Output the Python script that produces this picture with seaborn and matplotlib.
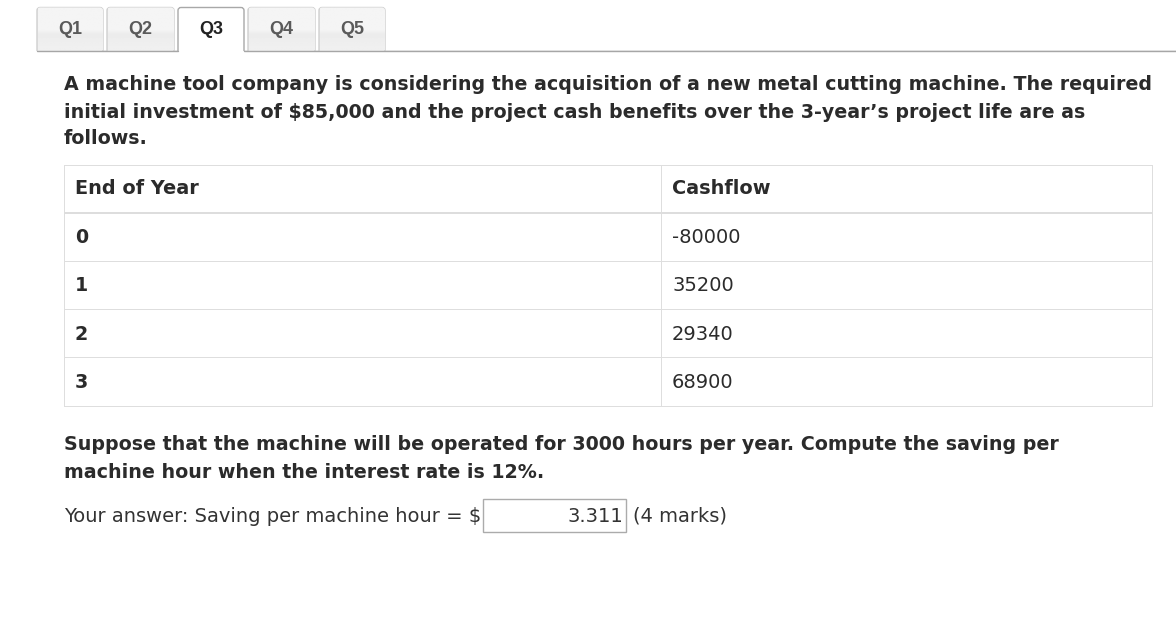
import numpy as np
import matplotlib
matplotlib.use("Agg")
import matplotlib.pyplot as plt
import seaborn as sns
from matplotlib.patches import FancyBboxPatch, Rectangle

# ============================================================
# DATA
# ============================================================

tab_labels = ["Q1", "Q2", "Q3", "Q4", "Q5"]
active_tab = "Q3"

question_lines = [
    "A machine tool company is considering the acquisition of a new metal cutting machine. The required",
    "initial investment of $85,000 and the project cash benefits over the 3-year\u2019s project life are as",
    "follows.",
]
followup_lines = [
    "Suppose that the machine will be operated for 3000 hours per year. Compute the saving per",
    "machine hour when the interest rate is 12%.",
]

year_header = "End of Year"
cash_header = "Cashflow"
years = ["0", "1", "2", "3"]
cashflows = ["-80000", "35200", "29340", "68900"]

answer_label = "Your answer: Saving per machine hour = $"
answer_value = "3.311"
answer_marks = "(4 marks)"

# ============================================================
# PAGE (one axes in pixel coordinates)
# ============================================================

W, H = 1176, 621
sns.set_theme(style="white")
plt.rcParams["font.family"] = ["DejaVu Sans"]

fig = plt.figure(figsize=(W / 100, H / 100), dpi=100)
page = fig.add_axes([0, 0, 1, 1])
page.set_xlim(0, W)
page.set_ylim(H, 0)
page.axis("off")

TEXT = "#2b2b2b"
BODY = 13.7
PLAIN = 14.05

# ============================================================
# TABS
# ============================================================

tab_left = [37, 107, 178, 248, 319]
tab_width = [66, 67, 66, 67, 66]
tab_top, tab_base = 7.5, 50.5

# top half of the tab is light, then a slightly darker band that fades out
tab_shade = np.array([0.96] * 19 + [0.95, 0.94, 0.93, 0.925, 0.925, 0.925, 0.93, 0.93,
                                    0.93, 0.935, 0.935, 0.935, 0.94, 0.94, 0.94, 0.94])

page.plot([37, W], [tab_base, tab_base], color="#a6a6a6", lw=1, zorder=1)

for label, x, w in zip(tab_labels, tab_left, tab_width):
    on = label == active_tab
    # extend the shape below the baseline so only the top corners show rounded
    patch = FancyBboxPatch((x, tab_top), w, tab_base - tab_top + 6,
                           boxstyle="round,pad=0,rounding_size=3",
                           fc="white" if on else "#eeeeee",
                           ec="#a8a8a8" if on else "#cfcfcf", lw=1, zorder=2)
    page.add_patch(patch)
    if not on:
        img = page.imshow(tab_shade.reshape(-1, 1), cmap="gray", vmin=0, vmax=1, aspect="auto",
                          extent=(x + 0.5, x + w - 0.5, tab_base, tab_top + 0.5), zorder=2.5)
        img.set_clip_path(patch)
    page.text(x + w / 2, 29, label, ha="center", va="center",
              family="Liberation Sans", weight="bold", fontsize=13,
              color="#222222" if on else "#5a5a5a", zorder=3)

# hide what hangs under the baseline and redraw the line, open under the active tab
page.add_patch(Rectangle((30, tab_base), W, 8, fc="white", ec="none", zorder=4))
active_x = tab_left[tab_labels.index(active_tab)]
active_w = tab_width[tab_labels.index(active_tab)]
page.plot([37, active_x], [tab_base, tab_base], color="#a6a6a6", lw=1, zorder=5)
page.plot([active_x + active_w, W], [tab_base, tab_base], color="#a6a6a6", lw=1, zorder=5)

page.set_xlim(0, W)
page.set_ylim(H, 0)

# ============================================================
# QUESTION TEXT
# ============================================================

for line, y in zip(question_lines, [85, 112, 139]):
    page.text(64, y, line, ha="left", va="center", weight="bold", fontsize=BODY, color=TEXT)

for line, y in zip(followup_lines, [445, 472]):
    page.text(64, y, line, ha="left", va="center", weight="bold", fontsize=BODY, color=TEXT)

# ============================================================
# TABLE (two single column heatmaps side by side)
# ============================================================

def table_column(x0, x1, header, values):
    ax = fig.add_axes([x0 / W, 1 - 405.5 / H, (x1 - x0) / W, (405.5 - 164.5) / H])
    sns.heatmap(
        np.zeros((len(values) + 1, 1)),
        ax=ax,
        cmap=["white"],
        cbar=False,
        linewidths=0.72,
        linecolor="#dedede",
        xticklabels=False,
        yticklabels=False,
        clip_on=False,
    )
    pad = 11.5 / (x1 - x0)
    ax.hlines(1, 0, 1, color="#dddddd", lw=1.4, zorder=5)
    ax.text(pad, 0.5, header, ha="left", va="center", weight="bold",
            fontsize=BODY + 0.15, color=TEXT)
    return ax, pad


year_ax, year_pad = table_column(63.5, 660.5, year_header, years)
for row, value in enumerate(years):
    year_ax.text(year_pad, row + 1.52, value, ha="left", va="center", weight="bold",
                 fontsize=BODY, color=TEXT)

cash_ax, cash_pad = table_column(660.5, 1151.5, cash_header, cashflows)
for row, value in enumerate(cashflows):
    cash_ax.text(cash_pad, row + 1.52, value, ha="left", va="center",
                 fontsize=PLAIN, color=TEXT)

# ============================================================
# ANSWER LINE
# ============================================================

page.text(64, 516, answer_label, ha="left", va="center", fontsize=PLAIN, color="#333333")
page.add_patch(Rectangle((482.5, 498.5), 143, 33, fc="white", ec="#ababab", lw=1))
page.text(623, 516, answer_value, ha="right", va="center", fontsize=PLAIN, color="#333333")
page.text(633, 516, answer_marks, ha="left", va="center", fontsize=PLAIN, color="#333333")

fig.savefig("out.png", dpi=100)
plt.close(fig)
